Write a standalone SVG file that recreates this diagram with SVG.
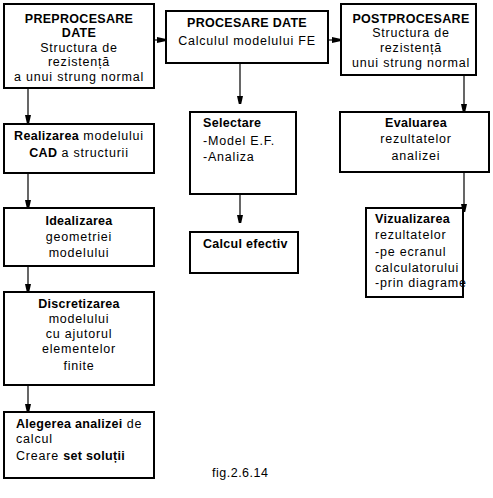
<svg xmlns="http://www.w3.org/2000/svg" width="493" height="498" viewBox="0 0 493 498">
<style>
.box{fill:#fff;stroke:#000;stroke-width:2}
.t{font-family:"Liberation Sans",Arial,sans-serif;font-size:12.5px;letter-spacing:0.8px;fill:#000}
.b{font-weight:bold;letter-spacing:0.3px}
.c{text-anchor:middle}
.conn{stroke:#000;stroke-width:1.2;fill:none;marker-end:url(#ah)}
</style>
<defs>
<marker id="ah" markerUnits="userSpaceOnUse" markerWidth="8" markerHeight="6" viewBox="0 0 8 6" refX="8" refY="3" orient="auto">
<path d="M0,0 L8,1.8 L8,4.2 L0,6 z" fill="#000"/>
</marker>
</defs>
<rect width="493" height="498" fill="#fff"/>
<g id="connectors">
<line class="conn" x1="154" y1="40" x2="165" y2="40"/>
<line class="conn" x1="328" y1="40" x2="340" y2="40"/>
<line class="conn" x1="28" y1="88" x2="28" y2="123"/>
<line class="conn" x1="28" y1="173" x2="28" y2="208"/>
<line class="conn" x1="28" y1="266" x2="28" y2="292"/>
<line class="conn" x1="28" y1="385" x2="28" y2="412"/>
<line class="conn" x1="240" y1="63" x2="240" y2="104"/>
<line class="conn" x1="240" y1="194" x2="240" y2="223"/>
<line class="conn" x1="464" y1="75" x2="464" y2="112"/>
<line class="conn" x1="464" y1="172" x2="464" y2="212"/>
</g>
<g id="preprocesare">
<rect class="box" x="4" y="4" width="150" height="84"/>
<text class="t c" x="79"><tspan class="b" x="79" y="23">PREPROCESARE</tspan><tspan class="b" x="79" y="37">DATE</tspan><tspan x="79" y="52">Structura de</tspan><tspan x="79" y="66">rezistență</tspan><tspan x="79" y="81">a unui strung normal</tspan></text>
</g>
<g id="procesare">
<rect class="box" x="166" y="11" width="162" height="52"/>
<text class="t c"><tspan class="b" x="247" y="27">PROCESARE DATE</tspan><tspan x="247" y="45">Calculul modelului FE</tspan></text>
</g>
<g id="postprocesare">
<rect class="box" x="341" y="4" width="135" height="71"/>
<text class="t c"><tspan class="b" x="411" y="23">POSTPROCESARE</tspan><tspan x="411" y="37">Structura de</tspan><tspan x="411" y="52">rezistență</tspan><tspan x="411" y="67">unui strung normal</tspan></text>
</g>
<g id="realizarea">
<rect class="box" x="4" y="124" width="150" height="49"/>
<text class="t c" x="79" y="140"><tspan class="b">Realizarea</tspan> modelului</text>
<text class="t c" x="79" y="157"><tspan class="b">CAD</tspan> a structurii</text>
</g>
<g id="idealizarea">
<rect class="box" x="4" y="208" width="150" height="58"/>
<text class="t c"><tspan class="b" x="79" y="225">Idealizarea</tspan><tspan x="79" y="241">geometriei</tspan><tspan x="79" y="257">modelului</tspan></text>
</g>
<g id="discretizarea">
<rect class="box" x="4" y="292" width="150" height="93"/>
<text class="t c"><tspan class="b" x="79" y="308">Discretizarea</tspan><tspan x="79" y="323">modelului</tspan><tspan x="79" y="338">cu ajutorul</tspan><tspan x="79" y="353">elementelor</tspan><tspan x="79" y="370">finite</tspan></text>
</g>
<g id="alegerea">
<rect class="box" x="4" y="412" width="150" height="66"/>
<text class="t" x="16" y="428"><tspan class="b">Alegerea analizei</tspan> de</text>
<text class="t" x="16" y="443">calcul</text>
<text class="t" x="16" y="460">Creare <tspan class="b">set soluții</tspan></text>
</g>
<g id="selectare">
<rect class="box" x="190" y="112" width="106" height="82"/>
<text class="t"><tspan class="b" x="203" y="127">Selectare</tspan><tspan x="203" y="145">-Model E.F.</tspan><tspan x="203" y="161">-Analiza</tspan></text>
</g>
<g id="calcul">
<rect class="box" x="190" y="232" width="108" height="41"/>
<text class="t b" x="203" y="248">Calcul efectiv</text>
</g>
<g id="evaluarea">
<rect class="box" x="340" y="112" width="149" height="60"/>
<text class="t c"><tspan class="b" x="416" y="127">Evaluarea</tspan><tspan x="416" y="143">rezultatelor</tspan><tspan x="416" y="160">analizei</tspan></text>
</g>
<g id="vizualizarea">
<rect class="box" x="366" y="208" width="97" height="89"/>
<text class="t"><tspan class="b" x="375" y="223">Vizualizarea</tspan><tspan x="375" y="239">rezultatelor</tspan><tspan x="375" y="256">-pe ecranul</tspan><tspan x="375" y="272">calculatorului</tspan><tspan x="375" y="287">-prin diagrame</tspan></text>
</g>
<text class="t" x="212" y="477" style="letter-spacing:0.5px">fig.2.6.14</text>
</svg>
